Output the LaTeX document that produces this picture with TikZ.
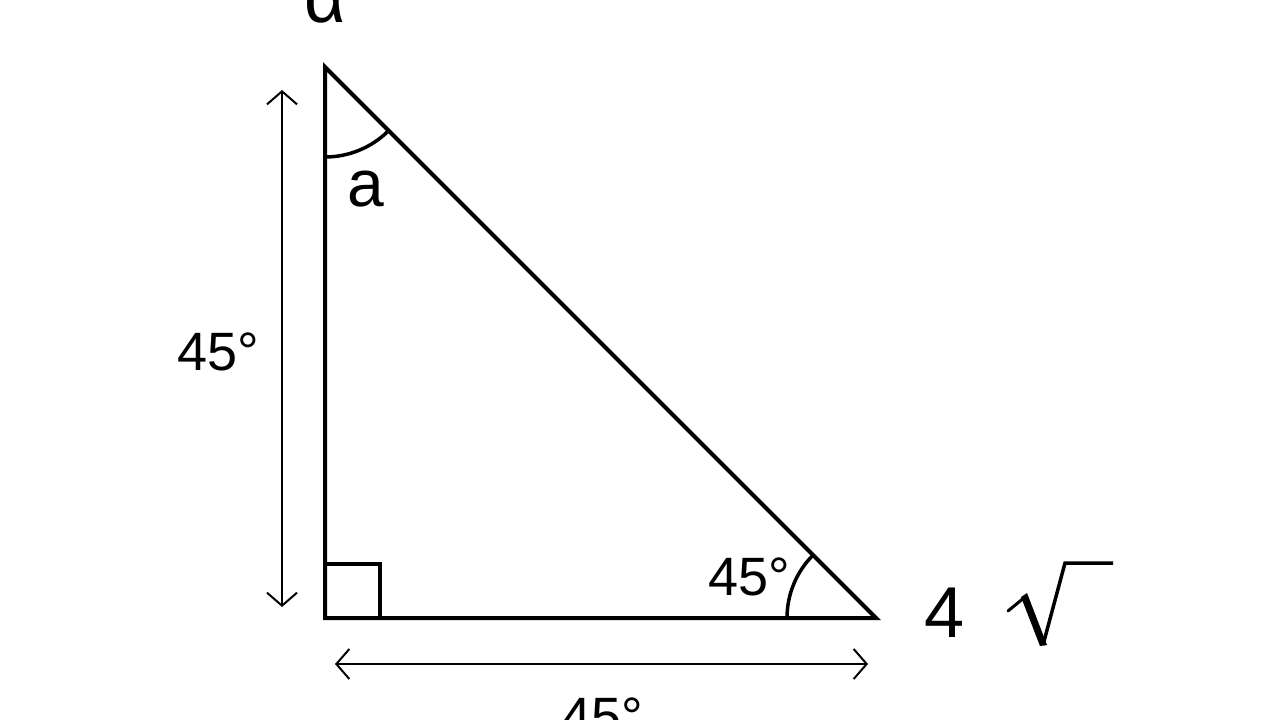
\documentclass[tikz,border=0pt]{standalone}
\usepackage{fontspec}
\setmainfont{Liberation Sans}
\usetikzlibrary{arrows.meta}
\begin{document}
\begin{tikzpicture}[x=1pt,y=-1pt,
  tri/.style={line width=4pt,line join=miter},
  dim/.style={line width=2pt,{Straight Barb[length=13pt,width=30pt,line width=2pt]}-{Straight Barb[length=13pt,width=30pt,line width=2pt]}},
  lbl/.style={font=\fontsize{54}{60}\selectfont,inner sep=0pt}]
\useasboundingbox (0,0) rectangle (1280,720);
\fill[white] (0,0) rectangle (1280,720);
\coordinate (A) at (325,67);
\coordinate (B) at (325,618);
\coordinate (C) at (876,618);
\draw[tri] (A) -- (B) -- (C) -- cycle;
\draw[line width=3.5pt] (325,564) -- (380,564) -- (380,618);
% angle arcs (y axis points down, so angles are mirrored)
\draw[line width=3.5pt] ([shift={(90:90)}]A) arc[start angle=90,end angle=45,radius=90];
\draw[line width=3.5pt] ([shift={(180:89)}]C) arc[start angle=180,end angle=225,radius=89];
% dimension arrows
\coordinate (v1) at (282,90);
\coordinate (v2) at (282,607);
\coordinate (h1) at (335,664);
\coordinate (h2) at (868,664);
\draw[dim] (v1) -- (v2);
\draw[dim] (h1) -- (h2);
% labels
\node[lbl] (l1) at (218,352) {45°};
\node[lbl] (l2) at (749,577) {45°};
\node[lbl,anchor=base] (l3) at (602,735) {45°};
\node[font=\fontsize{66}{70}\selectfont,inner sep=0pt,anchor=base] (la) at (366,206) {a};
\node[font=\fontsize{72}{76}\selectfont,inner sep=0pt,anchor=base] (alpha) at (325,22) {α};
\node[font=\fontsize{72}{76}\selectfont,inner sep=0pt,anchor=base] (four) at (945,637) {4};
% radical sign
\draw[line width=3pt,line cap=round] (1008,611) -- (1025,597);
\fill (1021,597) -- (1027,593) -- (1047,645) -- (1040,646) -- cycle;
\draw[line width=3.5pt,line join=miter] (1043,645) -- (1065,563) -- (1113,563);
\end{tikzpicture}
\end{document}
